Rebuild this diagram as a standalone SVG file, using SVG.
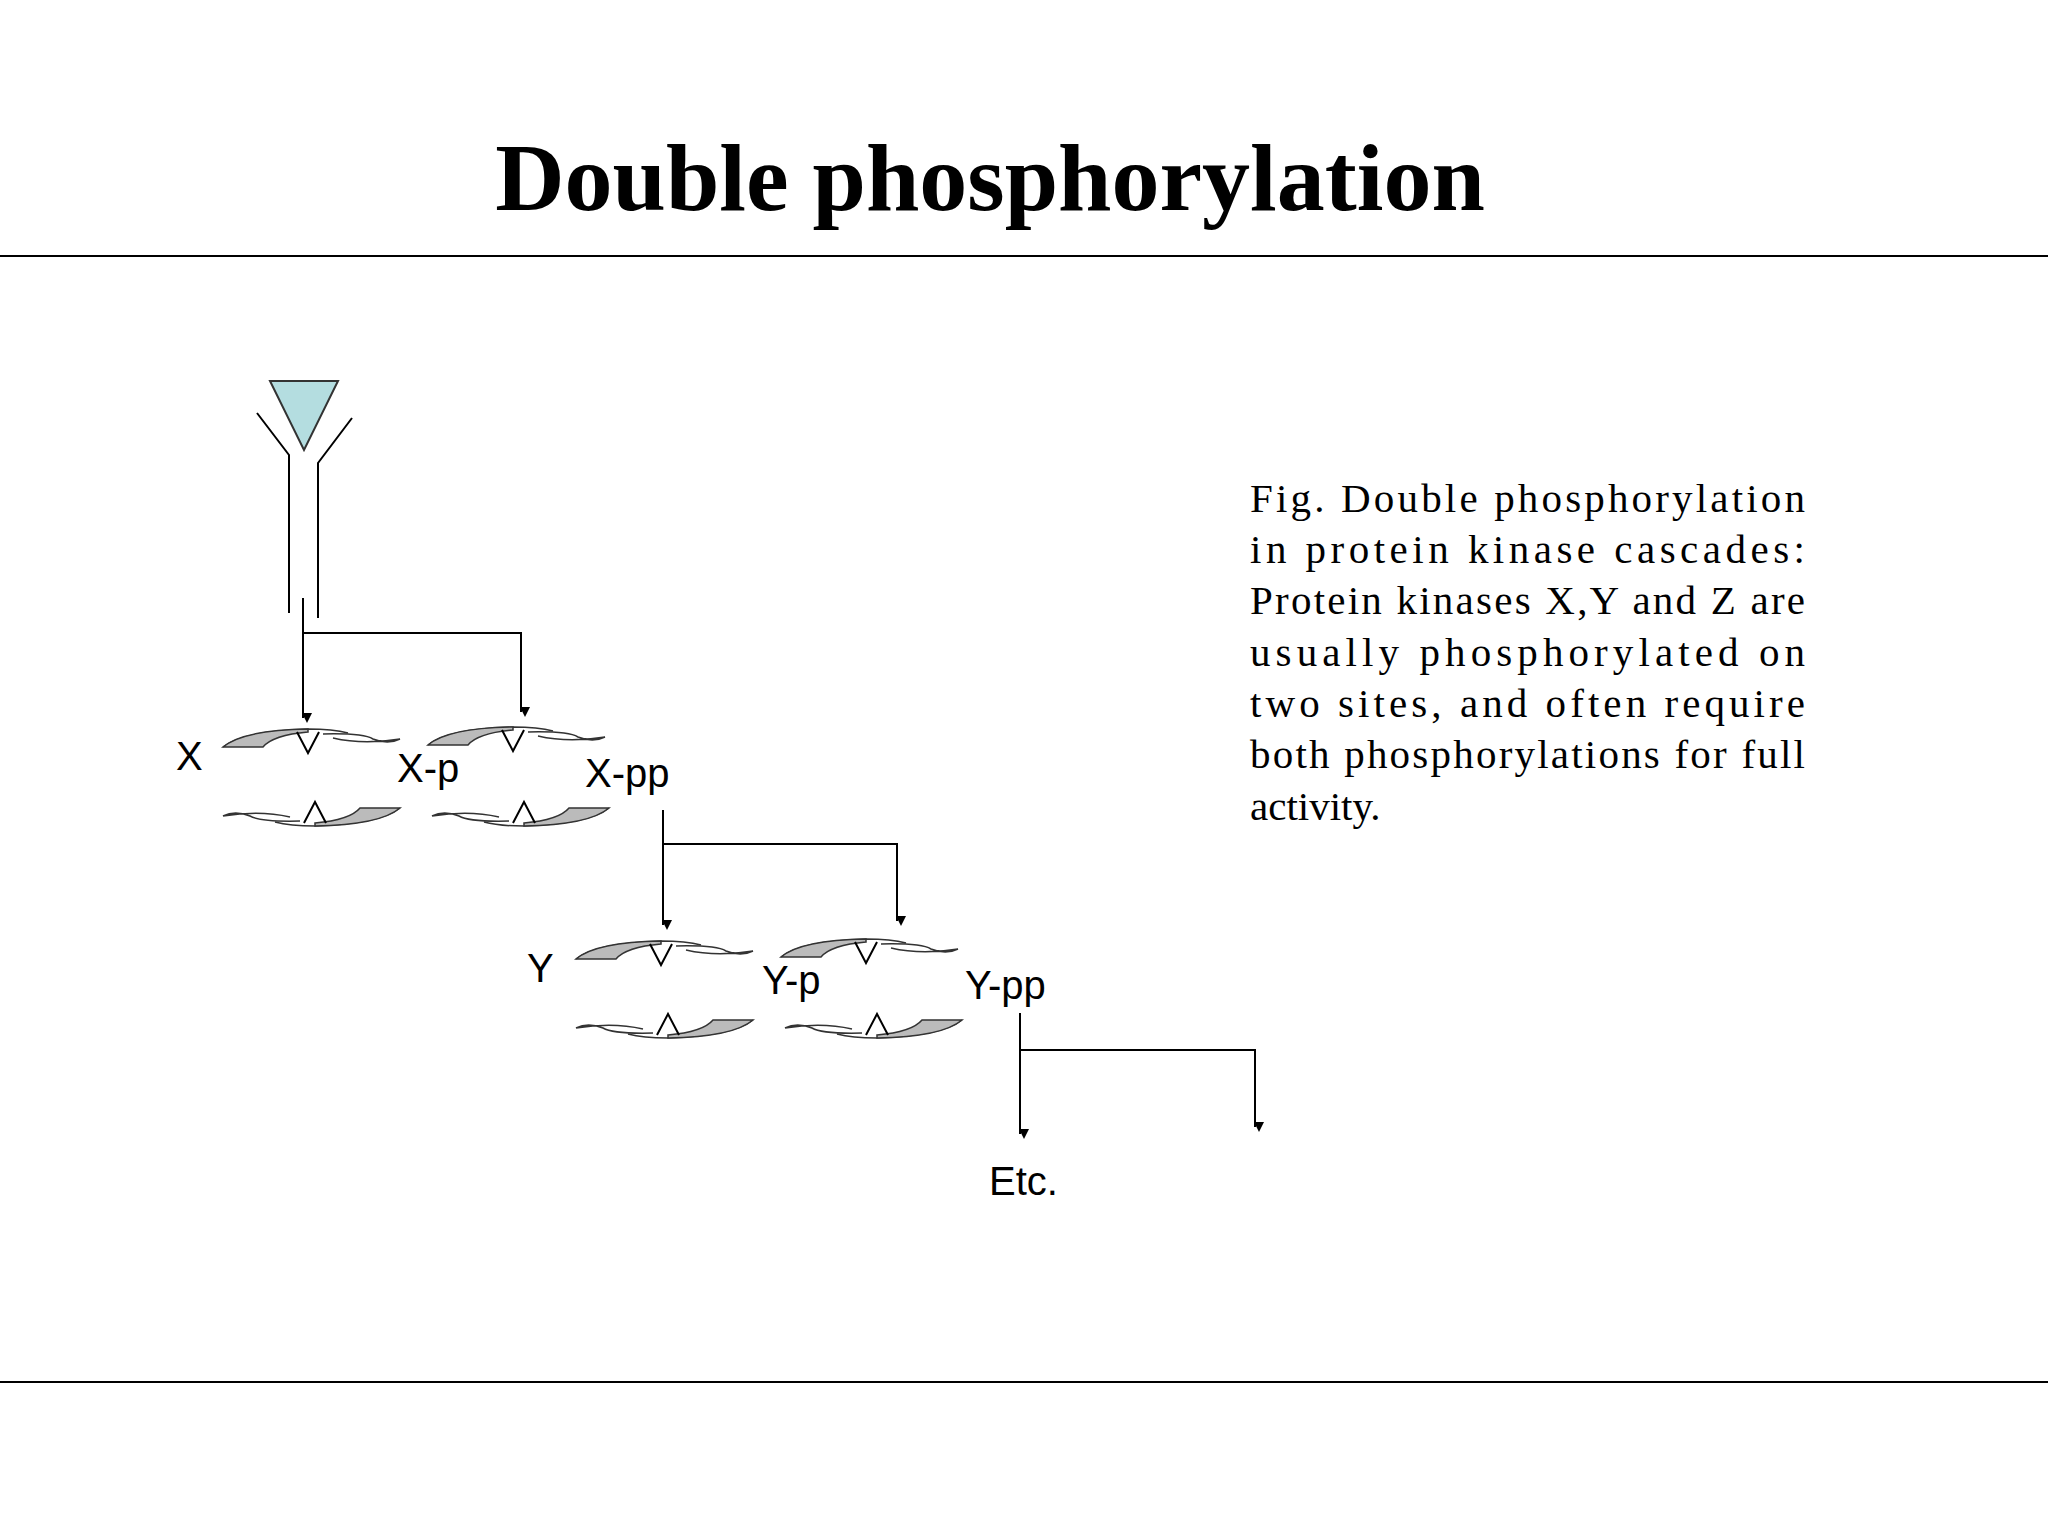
<svg xmlns="http://www.w3.org/2000/svg" width="2048" height="1536" viewBox="0 0 2048 1536">
<defs>
<style>
.ln{stroke:#000;stroke-width:2;fill:none}
.lb{font-family:"Liberation Sans",Arial,sans-serif;font-size:40px;fill:#000}
.tx{font-family:"Liberation Serif","Times New Roman",serif;font-size:41px;fill:#000}
</style>
<marker id="ah" markerWidth="10" markerHeight="10" refX="5" refY="9" orient="auto" markerUnits="userSpaceOnUse" viewBox="0 0 10 10">
<path d="M0,0 L10,0 L5,10 Z" fill="#000" transform="rotate(-90 5 5)"/>
</marker>
<g id="rx">
<path d="M0,18 Q20,2 85,0 Q110,0 125,4" fill="none" stroke="#333" stroke-width="1.5"/>
<path d="M0,18 L40,18 Q50,6 85,3 L85,0 Q20,1 0,18 Z" fill="#bbb" stroke="#333" stroke-width="1.5"/>
<path d="M100,5 Q140,4 150,10 Q165,16 177,10 M110,9 Q140,16 177,10" fill="none" stroke="#333" stroke-width="1.5"/>
<path d="M74,3 L85,24 L96,3" fill="none" stroke="#000" stroke-width="2"/>
</g>
<g id="pair">
<use href="#rx" x="223" y="729"/>
<use href="#rx" transform="rotate(180 311.5 817)" x="223" y="808"/>
<use href="#rx" x="428" y="727"/>
<use href="#rx" transform="rotate(180 520.5 817)" x="432" y="808"/>
</g>
</defs>
<rect width="2048" height="1536" fill="#fff"/>
<text x="990" y="210" text-anchor="middle" font-family="Liberation Serif,'Times New Roman',serif" font-weight="bold" font-size="96">Double phosphorylation</text>
<line x1="0" y1="256" x2="2048" y2="256" stroke="#000" stroke-width="2"/>
<line x1="0" y1="1382" x2="2048" y2="1382" stroke="#000" stroke-width="2"/>
<g id="receptor">
<polygon points="270,381 338,381 304,450" fill="#b4dde0" stroke="#333" stroke-width="2"/>
<polyline class="ln" points="257,413 289,455 289,613"/>
<polyline class="ln" points="352,418 318,463 318,618"/>
</g>
<g id="nodes">
<g id="X"><text class="lb" x="176" y="770">X</text></g>
<g id="Xp"><text class="lb" x="397" y="782">X-p</text></g>
<g id="Xpp"><text class="lb" x="585" y="787">X-pp</text></g>
<g id="Y"><text class="lb" x="527" y="982">Y</text></g>
<g id="Yp"><text class="lb" x="762" y="994">Y-p</text></g>
<g id="Ypp"><text class="lb" x="965" y="999">Y-pp</text></g>
<g id="Etc"><text class="lb" x="989" y="1195">Etc.</text></g>
</g>
<g id="reactions">
<use href="#pair"/>
<use href="#pair" x="353" y="212"/>
</g>
<g id="connectors">
<line class="ln" x1="303" y1="598" x2="303" y2="718" marker-end="url(#ah)"/>
<polyline class="ln" points="303,633 521,633 521,712" marker-end="url(#ah)"/>
<line class="ln" x1="663" y1="810" x2="663" y2="925" marker-end="url(#ah)"/>
<polyline class="ln" points="663,844 897,844 897,921" marker-end="url(#ah)"/>
<line class="ln" x1="1020" y1="1013" x2="1020" y2="1134" marker-end="url(#ah)"/>
<polyline class="ln" points="1020,1050 1255,1050 1255,1127" marker-end="url(#ah)"/>
</g>
<g id="caption">
<text class="tx" x="1250" y="512" textLength="555" lengthAdjust="spacing">Fig. Double phosphorylation</text>
<text class="tx" x="1250" y="563" textLength="555" lengthAdjust="spacing">in protein kinase cascades:</text>
<text class="tx" x="1250" y="614" textLength="555" lengthAdjust="spacing">Protein kinases X,Y and Z are</text>
<text class="tx" x="1250" y="666" textLength="555" lengthAdjust="spacing">usually phosphorylated on</text>
<text class="tx" x="1250" y="717" textLength="555" lengthAdjust="spacing">two sites, and often require</text>
<text class="tx" x="1250" y="768" textLength="555" lengthAdjust="spacing">both phosphorylations for full</text>
<text class="tx" x="1250" y="820">activity.</text>
</g>
</svg>
